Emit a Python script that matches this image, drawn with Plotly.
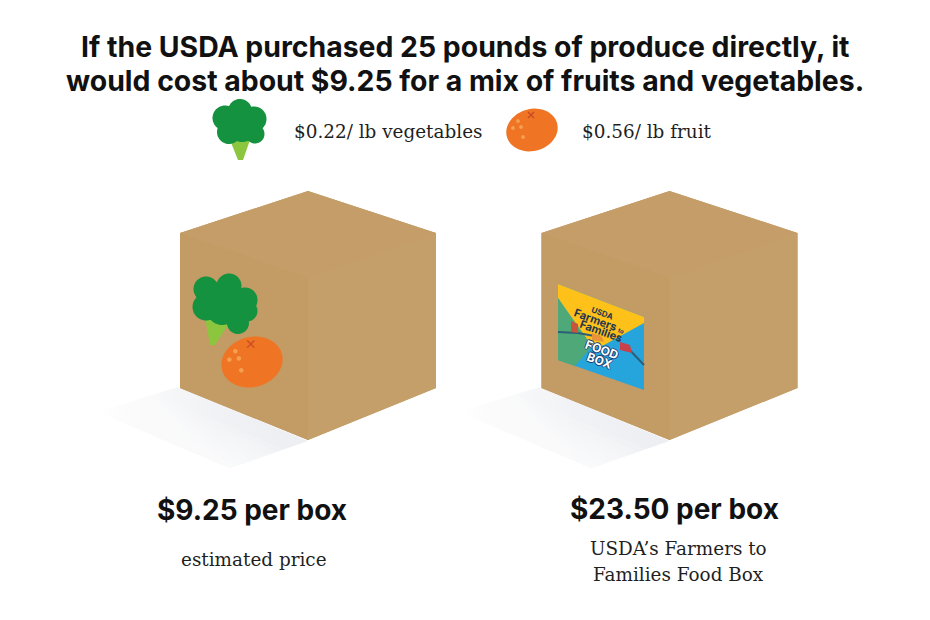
import numpy as np
import plotly.graph_objects as go

# Values read from the graphic
box_prices = [9.25, 23.50]
box_notes = [["estimated price"], ["USDA’s Farmers to", "Families Food Box"]]
unit_prices = [0.22, 0.56]
unit_labels = ["vegetables", "fruit"]
title_lines = [
    "If the USDA purchased 25 pounds of produce directly, it",
    "would cost about $9.25 for a mix of fruits and vegetables.",
]

SERIF = "DejaVu Serif"
SANS = "Inter"
TEXT = "#1f1f1f"

fig = go.Figure()
shapes = []
notes = []


def poly(points, color, opacity=1):
    path = "M " + " L ".join(f"{x:.1f},{y:.1f}" for x, y in points) + " Z"
    shapes.append(dict(type="path", path=path, fillcolor=color, opacity=opacity,
                       line=dict(width=0), xref="x", yref="y"))


def ellipse(cx, cy, rx, ry, color, rot=0):
    t = np.linspace(0, 2 * np.pi, 60)[:-1]
    a = np.radians(rot)
    px = rx * np.cos(t)
    py = ry * np.sin(t)
    poly(list(zip(cx + px * np.cos(a) - py * np.sin(a),
                  cy + px * np.sin(a) + py * np.cos(a))), color)


def stroke(x0, y0, x1, y1, color, width=1):
    shapes.append(dict(type="line", x0=x0, y0=y0, x1=x1, y1=y1,
                       line=dict(color=color, width=width), xref="x", yref="y"))


def label(x, y, text, size, family=SERIF, color=TEXT, angle=0, bold=False, shadow=None):
    font = dict(size=size, family=family, color=color,
                weight="bold" if bold else "normal")
    if shadow:
        font["shadow"] = shadow
    notes.append(dict(x=x, y=y, text=text, showarrow=False, font=font,
                      textangle=angle, xanchor="center", yanchor="middle",
                      xref="x", yref="y"))


def box(dx):
    # ground shadow, fading towards the outer edge
    back = np.array([[178 + dx, 387], [308 + dx, 441]])
    front = np.array([[97 + dx, 412], [230 + dx, 468]])
    fig.add_trace(go.Scatter(
        x=[back[0, 0], back[1, 0], front[1, 0], front[0, 0], back[0, 0]],
        y=[back[0, 1], back[1, 1], front[1, 1], front[0, 1], back[0, 1]],
        mode="lines", fill="toself", line=dict(width=0),
        fillgradient=dict(type="horizontal",
                          colorscale=[[0, "#ffffff"], [0.55, "#f1f2f5"], [1, "#eceef2"]]),
        hoverinfo="skip", showlegend=False,
    ))
    for t in np.linspace(0.3, 0.9, 7):
        a = back + (front - back) * t
        fig.add_trace(go.Scatter(
            x=[a[0, 0], a[1, 0], front[1, 0], front[0, 0], a[0, 0]],
            y=[a[0, 1], a[1, 1], front[1, 1], front[0, 1], a[0, 1]],
            mode="lines", fill="toself", line=dict(width=0),
            fillcolor="rgba(255,255,255,0.16)", hoverinfo="skip", showlegend=False,
        ))
    # silhouette first so the faces leave no light seams
    poly([(180 + dx, 233), (308 + dx, 191), (436 + dx, 233), (436 + dx, 388),
          (308 + dx, 440), (180 + dx, 388)], "#c39c66")
    poly([(180 + dx, 233), (308 + dx, 191), (436 + dx, 233), (308 + dx, 278)], "#c49d68")
    poly([(180 + dx, 233), (308 + dx, 278), (308 + dx, 440), (180 + dx, 388)], "#c39b65")
    poly([(308 + dx, 278), (436 + dx, 233), (436 + dx, 388), (308 + dx, 440)], "#c59f69")


def broccoli(blobs, stem):
    poly(stem, "#8cc63f")
    for cx, cy, r in blobs:
        ellipse(cx, cy, r, r, "#15923f")


def orange(cx, cy, rx, ry):
    ellipse(cx, cy, rx, ry, "#ef7423", -15)
    k = rx / 26
    for ox, oy in [(-14, -9), (-19, -2), (-11, -3), (-9, 7)]:
        ellipse(cx + ox * k, cy + oy * k, 1.9 * k, 1.9 * k, "#f5a04f")
    mx, my = cx - 1 * k, cy - 15 * k
    stroke(mx - 3 * k, my - 3 * k, mx + 3 * k, my + 3 * k, "#c8492a", 1.2)
    stroke(mx - 3 * k, my + 3 * k, mx + 3 * k, my - 3 * k, "#c8492a", 1.2)


# heading
label(465, 46, title_lines[0], 28.4, SANS, "#111111", bold=True)
label(465, 80, title_lines[1], 28.4, SANS, "#111111", bold=True)

# legend row
broccoli(
    [(225, 118, 12.5), (240, 111, 12), (254, 119, 12.5), (255, 134, 9.5),
     (229, 132, 12), (242, 128, 14)],
    [(230, 140), (250, 140), (243, 160), (238, 160)],
)
orange(532, 130, 26, 21)
label(387.5, 131, f"${unit_prices[0]:.2f}/ lb {unit_labels[0]}", 18.4)
label(646.5, 131, f"${unit_prices[1]:.2f}/ lb {unit_labels[1]}", 18.4)

# left box
box(0)
broccoli(
    [(206, 289, 12.5), (229, 286, 12.5), (245, 300, 12.5), (238, 323, 11),
     (206, 307, 13.5), (222, 310, 15), (247, 311, 10.5), (222, 295, 14)],
    [(205, 318), (228, 325), (215, 345), (210, 345)],
)
orange(252, 362, 31, 25)

# right box
box(361.5)

# food box sticker
poly([(558, 284), (644, 317), (644, 390), (558, 360)], "#26a5dc")
poly([(558, 284), (644, 317), (644, 323), (604, 345), (590, 348), (558, 298)], "#fdc11a")
poly([(558, 298), (592, 346), (575, 366), (558, 360)], "#4fa877")
stroke(558, 332, 578, 333, "#2b5f78", 2)
stroke(578, 333, 600, 337, "#2b5f78", 2)
stroke(625, 345, 644, 365, "#2b5f78", 2)
poly([(571, 321), (578, 324), (578, 333), (571, 332)], "#c8543a")
poly([(592, 333), (602, 337), (604, 342), (592, 340)], "#e8923a")
poly([(620, 342), (630, 345), (632, 353), (620, 350)], "#c8404a")
SHADOW = "1px 0 0 #1d3f7a, -1px 0 0 #1d3f7a, 0 1px 0 #1d3f7a, 0 -1px 0 #1d3f7a"
label(602, 313, "USDA", 8, SANS, "#21364f", angle=20, bold=True)
label(599, 321, "Farmers <span style='font-size:6px'>to</span>", 11, SANS, "#21364f", angle=20, bold=True)
label(601, 331, "Families", 11, SANS, "#21364f", angle=20, bold=True)
label(602, 349, "FOOD", 12, SANS, "#ffffff", angle=20, bold=True, shadow=SHADOW)
label(600, 360, "BOX", 12, SANS, "#ffffff", angle=20, bold=True, shadow=SHADOW)

# prices under the boxes
label(252, 510, f"${box_prices[0]:.2f} per box", 28, SANS, "#111111", bold=True)
label(674, 509, f"${box_prices[1]:.2f} per box", 28, SANS, "#111111", bold=True)
label(253.5, 559, box_notes[0][0], 18.4)
label(678.5, 548, box_notes[1][0], 18.4)
label(678.5, 574, box_notes[1][1], 18.4)

fig.update_layout(
    width=930, height=620,
    margin=dict(l=0, r=0, t=0, b=0),
    paper_bgcolor="white", plot_bgcolor="white",
    xaxis=dict(range=[0, 930], visible=False, fixedrange=True),
    yaxis=dict(range=[620, 0], visible=False, fixedrange=True),
    shapes=shapes, annotations=notes, showlegend=False,
)

# the browser's default body margin would push the page off by 8px
fig.write_html("out.html", config={"displayModeBar": False},
               post_script="document.body.style.margin = '0';")
